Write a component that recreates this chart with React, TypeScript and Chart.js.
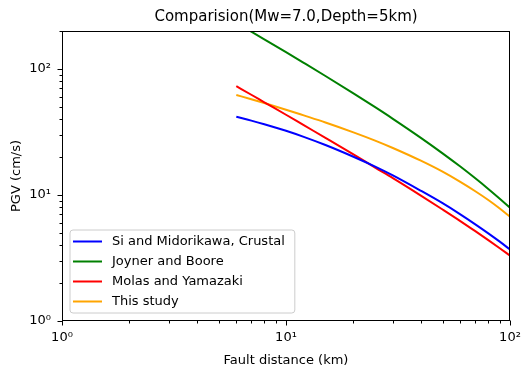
import React, { useEffect, useRef } from 'react';
import { Chart, registerables } from 'chart.js';

Chart.register(...registerables);

// ---- data ----
const distances = [6, 7, 8, 10, 12, 15, 20, 25, 30, 40, 50, 60, 70, 80, 90, 100];
const siMidorikawa = [41.7, 38.9, 36.4, 32.3, 28.9, 24.9, 20.1, 16.8, 14.3, 10.8, 8.6, 7.02, 5.85, 4.96, 4.26, 3.69];
const joynerBoore = [231.7, 197.6, 171.9, 135.8, 111.8, 87.9, 64.0, 49.7, 40.2, 28.4, 21.4, 16.8, 13.55, 11.17, 9.35, 7.93];
const molasYamazaki = [73.0, 62.4, 54.4, 43.3, 35.8, 28.4, 21.0, 16.5, 13.6, 9.89, 7.67, 6.21, 5.16, 4.38, 3.78, 3.3];
const thisStudy = [62.2, 57.5, 53.6, 47.5, 42.8, 37.6, 31.4, 27.0, 23.6, 18.7, 15.3, 12.7, 10.7, 9.12, 7.81, 6.72];
const seriesLabels = ['Si and Midorikawa, Crustal', 'Joyner and Boore', 'Molas and Yamazaki', 'This study'];
const seriesColors = ['#0000ff', '#008000', '#ff0000', '#ffa500'];

const titleText = 'Comparision(Mw=7.0,Depth=5km)';
const xTitle = 'Fault distance (km)';
const yTitle = 'PGV (cm/s)';

const xTickValues = [1, 2, 3, 4, 5, 6, 7, 8, 9, 10, 20, 30, 40, 50, 60, 70, 80, 90, 100];
const yTickValues = [1, 2, 3, 4, 5, 6, 7, 8, 9, 10, 20, 30, 40, 50, 60, 70, 80, 90, 100, 200];
const majorTickValues = [1, 10, 100];
const majorTickLabels = ['10⁰', '10¹', '10²'];

const FONT = 'DejaVu Sans';

const labelFor = (v: number) => {
  const i = majorTickValues.indexOf(v);
  return i >= 0 ? majorTickLabels[i] : '';
};

const framePlugin = {
  id: 'mplFrame',
  afterDatasetsDraw(chart: any) {
    const { ctx, chartArea: a, scales } = chart;
    ctx.save();
    ctx.strokeStyle = '#000';
    ctx.lineWidth = 1;
    const L = Math.round(a.left) + 0.5;
    const R = Math.round(a.right) - 0.5;
    const T = Math.round(a.top) + 0.5;
    const B = Math.round(a.bottom) - 0.5;
    ctx.strokeRect(L, T, R - L, B - T);
    // tick marks
    ctx.beginPath();
    scales.x.ticks.forEach((t: any) => {
      const px = Math.round(scales.x.getPixelForValue(t.value)) + 0.5;
      const len = majorTickValues.includes(t.value) ? 5 : 3;
      ctx.moveTo(px, B);
      ctx.lineTo(px, B + len);
    });
    scales.y.ticks.forEach((t: any) => {
      const py = Math.round(scales.y.getPixelForValue(t.value)) + 0.5;
      const len = majorTickValues.includes(t.value) ? 5 : 3;
      ctx.moveTo(L, py);
      ctx.lineTo(L - len, py);
    });
    ctx.stroke();

    // legend
    const ds = chart.data.datasets;
    ctx.font = `13px "${FONT}"`;
    let maxW = 0;
    ds.forEach((d: any) => { maxW = Math.max(maxW, ctx.measureText(d.label).width); });
    const lw = maxW + 52;
    const rowH = 20;
    const lh = ds.length * rowH + 3;
    const lx = a.left + 8;
    const ly = a.bottom - 8 - lh;
    const r = 3;
    ctx.beginPath();
    ctx.moveTo(lx + r, ly);
    ctx.lineTo(lx + lw - r, ly);
    ctx.arcTo(lx + lw, ly, lx + lw, ly + r, r);
    ctx.lineTo(lx + lw, ly + lh - r);
    ctx.arcTo(lx + lw, ly + lh, lx + lw - r, ly + lh, r);
    ctx.lineTo(lx + r, ly + lh);
    ctx.arcTo(lx, ly + lh, lx, ly + lh - r, r);
    ctx.lineTo(lx, ly + r);
    ctx.arcTo(lx, ly, lx + r, ly, r);
    ctx.closePath();
    ctx.fillStyle = 'rgba(255,255,255,0.8)';
    ctx.fill();
    ctx.strokeStyle = '#cccccc';
    ctx.lineWidth = 1;
    ctx.stroke();
    ds.forEach((d: any, i: number) => {
      const cy = ly + 11.5 + i * rowH;
      ctx.beginPath();
      ctx.strokeStyle = d.borderColor;
      ctx.lineWidth = 2;
      ctx.moveTo(lx + 3, cy);
      ctx.lineTo(lx + 32, cy);
      ctx.stroke();
      ctx.fillStyle = '#000';
      ctx.textBaseline = 'middle';
      ctx.textAlign = 'left';
      ctx.fillText(d.label, lx + 42, cy);
    });
    ctx.restore();
  },
};

export default function App() {
  const ref = useRef<HTMLCanvasElement>(null);
  useEffect(() => {
    if (!ref.current) return;
    Chart.defaults.font.family = FONT;
    Chart.defaults.color = '#000';
    const series = [siMidorikawa, joynerBoore, molasYamazaki, thisStudy];
    const chart = new Chart(ref.current, {
      type: 'line',
      data: {
        datasets: series.map((vals, i) => ({
          label: seriesLabels[i],
          data: distances.map((x, j) => ({ x, y: vals[j] })),
          borderColor: seriesColors[i],
          backgroundColor: seriesColors[i],
          borderWidth: 2,
          pointRadius: 0,
          fill: false,
          cubicInterpolationMode: 'monotone' as const,
          clip: 0,
        })),
      },
      options: {
        animation: false,
        responsive: false,
        devicePixelRatio: 1,
        layout: { padding: { left: 0, right: 21, top: 0, bottom: 0 } },
        plugins: {
          legend: { display: false },
          tooltip: { enabled: false },
          title: {
            display: true,
            text: titleText,
            fullSize: false,
            font: { size: 15, weight: 'normal' as const },
            color: '#000',
            padding: { top: 8, bottom: 5 },
          },
        },
        scales: {
          x: {
            type: 'logarithmic',
            position: 'bottom',
            min: 1,
            max: 100,
            afterBuildTicks: (s: any) => { s.ticks = xTickValues.map((value) => ({ value })); },
            afterFit: (s: any) => { s.height = 55; },
            ticks: {
              autoSkip: false,
              maxRotation: 0,
              padding: 4,
              font: { size: 13 },
              color: '#000',
              callback: (v: any) => labelFor(Number(v)),
            },
            grid: { display: true, drawOnChartArea: false, drawTicks: true, tickLength: 5, tickColor: 'rgba(0,0,0,0)' },
            border: { display: false },
            title: { display: true, text: xTitle, font: { size: 13 }, color: '#000', padding: { top: 0, bottom: 8 } },
          },
          y: {
            type: 'logarithmic',
            position: 'left',
            min: 1,
            max: 200,
            afterBuildTicks: (s: any) => { s.ticks = yTickValues.map((value) => ({ value })); },
            afterFit: (s: any) => { s.width = 62; },
            ticks: {
              autoSkip: false,
              padding: 6,
              font: { size: 13 },
              color: '#000',
              callback: (v: any) => labelFor(Number(v)),
            },
            grid: { display: true, drawOnChartArea: false, drawTicks: true, tickLength: 5, tickColor: 'rgba(0,0,0,0)' },
            border: { display: false },
            title: { display: true, text: yTitle, font: { size: 13 }, color: '#000', padding: { top: 9, bottom: 0 } },
          },
        },
      },
      plugins: [framePlugin],
    } as any);
    return () => chart.destroy();
  }, []);
  return (
    <div style={{ position: 'absolute', left: 0, top: 0, width: 531, height: 376, background: '#fff' }}>
      <canvas ref={ref} width={531} height={376} style={{ display: 'block', width: 531, height: 376 }} />
    </div>
  );
}
